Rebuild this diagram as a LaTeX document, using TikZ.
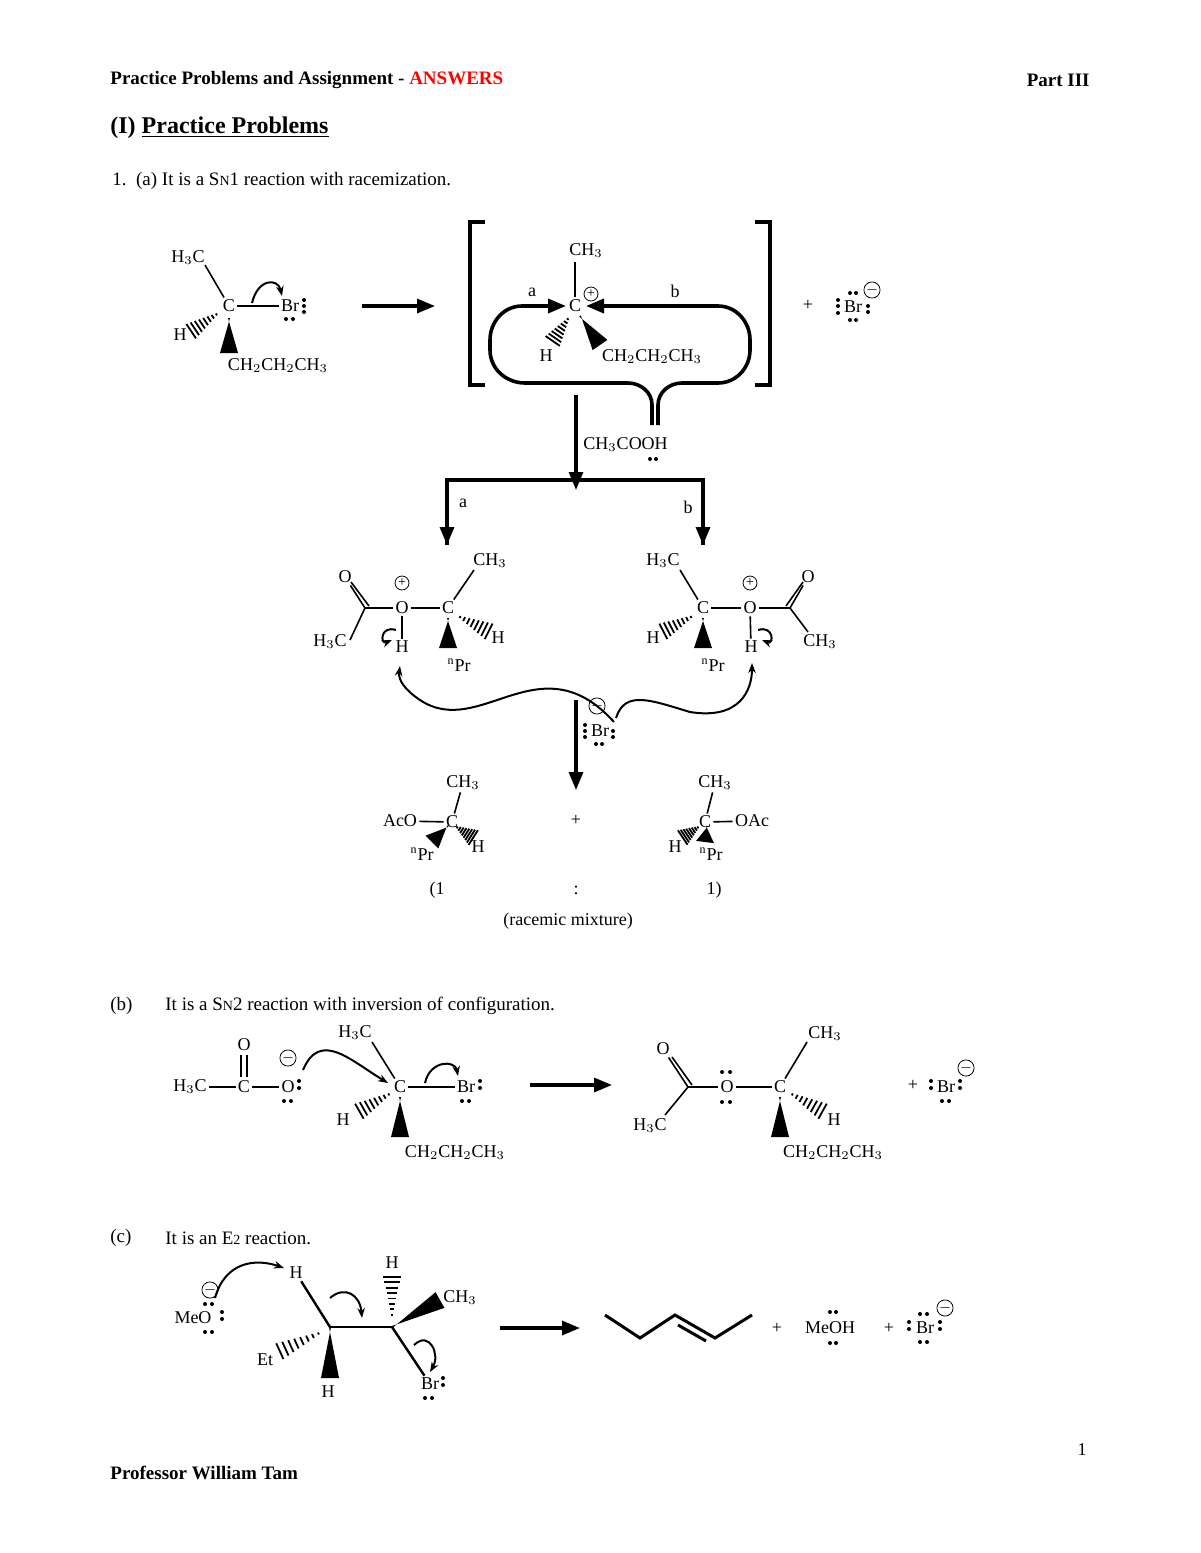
\documentclass[tikz,border=0pt]{standalone}
\usepackage{fontspec}
\setmainfont{Liberation Serif}
\usetikzlibrary{calc,arrows.meta}
\newcommand\hsh[2]{\foreach \t in {0.12,0.24,...,1.0}{\draw[line width=0.9pt] ($(#1)!\t!(#2)!{\t*4.5pt}!90:(#2)$) -- ($(#1)!\t!(#2)!{\t*4.5pt}!-90:(#2)$);}}
\newcommand\wdg[2]{\fill ($(#1)!0.5pt!90:(#2)$) -- ($(#2)!4.5pt!90:(#1)$) -- ($(#2)!4.5pt!-90:(#1)$) -- ($(#1)!0.5pt!-90:(#2)$) -- cycle;}
\begin{document}
\begin{tikzpicture}[x=0.5pt,y=-0.5pt,
  ch/.style={font=\fontsize{9}{10}\selectfont,inner sep=1pt},
  txt/.style={font=\fontsize{9.5}{11}\selectfont,inner sep=0pt,anchor=west},
  bd/.style={line width=0.8pt},
  big/.style={line width=1.6pt,-{Triangle[length=9pt,width=7pt]}},
  cur/.style={line width=1pt,-{Stealth[length=5pt]}},
  chg/.style={circle,draw,inner sep=0pt,minimum size=7pt,font=\fontsize{7}{7}\selectfont}]
\useasboundingbox (0,0) rectangle (1200,1553);
% header
\node[txt,font=\fontsize{9.5}{11}\selectfont\bfseries] (hd) at (110,80) {Practice Problems and Assignment - \textcolor{red}{ANSWERS}};
\node[txt,anchor=east,font=\fontsize{9.5}{11}\selectfont\bfseries] (pt) at (1090,80) {Part III};
\node[txt,font=\fontsize{12}{14}\selectfont\bfseries] (h1) at (110,128) {(I) \underline{Practice Problems}};
\node[txt] (q1) at (112,181) {1.\ \ (a) It is a S{\fontsize{7}{8}\selectfont N}1 reaction with racemization.};
% molecule 1
\node[ch] (c1) at (229,306) {C};
\node[ch] (c1m) at (188,258) {H$_3$C};
\node[ch] (c1b) at (290,306) {Br};
\node[ch] (c1h) at (180,335) {H};
\node[ch] (c1p) at (278,366) {CH$_2$CH$_2$CH$_3$};
\draw[bd] (c1) -- (205,265);
\draw[bd] (c1) -- (c1b);
\coordinate (w1) at (229,353); \coordinate (c1s) at (229,318);
\wdg{c1s}{w1}
\coordinate (h1a) at (220,312); \coordinate (h1b) at (190,332); \hsh{h1a}{h1b}
\draw[cur] (252,303) .. controls (258,278) and (278,278) .. (282,296);
\foreach \p in {(304,300),(304,306),(304,312),(286,319),(293,319)} \fill \p circle (1pt);
\draw[big] (362,306) -- (435,306);
% brackets
\draw[line width=2pt] (485,222) -- (470,222) -- (470,385) -- (485,385);
\draw[line width=2pt] (755,222) -- (770,222) -- (770,385) -- (755,385);
\node[ch] (c2) at (575,306) {C};
\node[chg] (pl2) at (591,294) {+};
\node[ch] (c2m) at (586,251) {CH$_3$};
\node[ch] (c2h) at (546,356) {H};
\node[ch] (c2p) at (652,357) {CH$_2$CH$_2$CH$_3$};
\draw[bd] (575,297) -- (575,262);
\coordinate (h2a) at (570,316); \coordinate (h2b) at (552,342); \hsh{h2a}{h2b}
\coordinate (w2a) at (580,316); \coordinate (w2b) at (600,345); \wdg{w2a}{w2b}
\draw[line width=1.8pt,-{Triangle[length=9pt,width=7pt]}] (652,425) -- (652,405) to[out=90,in=0] (628,383) -- (525,383) to[out=180,in=270] (490,350) -- (490,340) to[out=90,in=180] (522,306) -- (566,306);
\draw[line width=1.8pt,-{Triangle[length=9pt,width=7pt]}] (658,425) -- (658,405) to[out=90,in=180] (682,383) -- (718,383) to[out=0,in=270] (750,350) -- (750,340) to[out=90,in=0] (718,306) -- (586,306);
\node[ch] (la) at (532,292) {a};
\node[ch] (lb) at (675,291) {b};
\node[ch] (pl) at (808,305) {+};
\node[ch] (br2) at (853,307) {Br};
\node[chg] (mi2) at (872,290) {$-$};
\foreach \p in {(838,300),(838,306),(838,313),(850,293),(856,293),(850,320),(856,320),(868,306),(868,312)} \fill \p circle (1pt);
% acetic acid
\draw[big] (576,395) -- (576,490);
\node[txt] (aa) at (583,445) {\fontsize{9}{10}\selectfont CH$_3$COOH};
\foreach \p in {(650,459),(656,459)} \fill \p circle (1pt);
\draw[line width=1.8pt] (447,545) -- (447,480) -- (703,480) -- (703,545);
\draw[big] (447,480) -- (447,545);
\draw[big] (703,480) -- (703,545);
\node[ch] (la2) at (463,503) {a};
\node[ch] (lb2) at (688,507) {b};
% left intermediate
\node[ch] (o1) at (402,608) {O};
\node[chg] (op1) at (402,583) {+};
\node[ch] (ok1) at (345,577) {O};
\node[ch] (m1) at (330,642) {H$_3$C};
\node[ch] (c3) at (448,608) {C};
\node[ch] (c3m) at (490,561) {CH$_3$};
\node[ch] (c3h) at (498,638) {H};
\node[ch] (c3p) at (459,665) {$^{\rm n}$Pr};
\node[ch] (oh1) at (402,647) {H};
\coordinate (k1) at (365,608);
\draw[bd] (k1) -- (o1); \draw[bd] (k1) -- (350,640); \draw[bd] (k1) -- (ok1); \draw[bd] (369,606) -- (351,582);
\draw[bd] (o1) -- (c3); \draw[bd] (c3) -- (474,570); \draw[bd] (o1) -- (oh1);
\coordinate (h3a) at (456,615); \coordinate (h3b) at (490,632); \hsh{h3a}{h3b}
\coordinate (w3a) at (448,618); \coordinate (w3b) at (448,648); \wdg{w3a}{w3b}
\draw[cur] (396,630) .. controls (380,625) and (380,645) .. (392,640);
% right intermediate
\node[ch] (c4) at (703,608) {C};
\node[ch] (c4m) at (663,561) {H$_3$C};
\node[ch] (c4h) at (653,638) {H};
\node[ch] (c4p) at (713,665) {$^{\rm n}$Pr};
\node[ch] (o2) at (750,608) {O};
\node[chg] (op2) at (750,583) {+};
\node[ch] (oh2) at (751,647) {H};
\node[ch] (ok2) at (808,577) {O};
\node[ch] (m2) at (820,642) {CH$_3$};
\coordinate (k2) at (790,608);
\draw[bd] (c4) -- (o2); \draw[bd] (o2) -- (k2); \draw[bd] (k2) -- (ok2); \draw[bd] (786,606) -- (803,582); \draw[bd] (k2) -- (808,632);
\draw[bd] (c4) -- (680,570); \draw[bd] (o2) -- (oh2);
\coordinate (h4a) at (695,615); \coordinate (h4b) at (662,632); \hsh{h4a}{h4b}
\coordinate (w4a) at (703,618); \coordinate (w4b) at (703,648); \wdg{w4a}{w4b}
\draw[cur] (758,630) .. controls (774,625) and (774,645) .. (762,640);
% bromide attack
\node[ch] (br3) at (600,731) {Br};
\node[chg] (mi3) at (597,706) {$-$};
\foreach \p in {(585,725),(585,731),(585,737),(596,744),(602,744),(613,731),(613,737)} \fill \p circle (1pt);
\draw[cur] (614,722) .. controls (540,640) and (480,740) .. (420,700) .. controls (405,690) and (398,680) .. (400,666);
\draw[cur] (616,718) .. controls (625,690) and (650,700) .. (690,712) .. controls (740,720) and (752,690) .. (752,663);
\draw[big] (576,700) -- (576,790);
% products
\node[ch] (c5) at (452,822) {C};
\node[ch] (c5m) at (463,783) {CH$_3$};
\node[ch] (c5o) at (400,821) {AcO};
\node[ch] (c5p) at (422,854) {$^{\rm n}$Pr};
\node[ch] (c5h) at (478,847) {H};
\draw[bd] (c5o) -- (c5); \draw[bd] (c5) -- (c5m);
\coordinate (h5a) at (455,826); \coordinate (h5b) at (474,838); \hsh{h5a}{h5b}
\coordinate (w5a) at (448,826); \coordinate (w5b) at (432,842); \wdg{w5a}{w5b}
\node[ch] (pl5) at (576,820) {+};
\node[ch] (c6) at (705,822) {C};
\node[ch] (c6m) at (715,783) {CH$_3$};
\node[ch] (c6o) at (752,821) {OAc};
\node[ch] (c6h) at (675,847) {H};
\node[ch] (c6p) at (711,854) {$^{\rm n}$Pr};
\draw[bd] (c6) -- (c6o); \draw[bd] (c6) -- (c6m);
\coordinate (h6a) at (700,826); \coordinate (h6b) at (682,838); \hsh{h6a}{h6b}
\coordinate (w6a) at (707,826); \coordinate (w6b) at (705,842); \wdg{w6a}{w6b}
\node[ch] (r1) at (437,890) {(1};
\node[ch] (r2) at (576,890) {:};
\node[ch] (r3) at (714,890) {1)};
\node[ch] (r4) at (568,921) {(racemic mixture)};
% (b)
\node[txt] (qb) at (110,1006) {(b)};
\node[txt] (qbt) at (165,1006) {It is a S{\fontsize{7}{8}\selectfont N}2 reaction with inversion of configuration.};
\node[ch] (b1) at (190,1087) {H$_3$C};
\node[ch] (b2) at (244,1087) {C};
\node[ch] (b3) at (244,1045) {O};
\node[ch] (b4) at (288,1087) {O};
\node[chg] (b4m) at (288,1058) {$-$};
\draw[bd] (b1) -- (b2); \draw[bd] (b2) -- (b4); \draw[bd] (241,1077) -- (241,1055); \draw[bd] (247,1077) -- (247,1055);
\foreach \p in {(299,1081),(299,1088),(284,1101),(291,1101)} \fill \p circle (1pt);
\node[ch] (b5) at (400,1087) {C};
\node[ch] (b6) at (355,1033) {H$_3$C};
\node[ch] (b7) at (343,1120) {H};
\node[ch] (b8) at (455,1153) {CH$_2$CH$_2$CH$_3$};
\node[ch] (b9) at (466,1087) {Br};
\draw[bd] (b5) -- (b9); \draw[bd] (b5) -- (372,1042);
\coordinate (h7a) at (393,1092); \coordinate (h7b) at (358,1112); \hsh{h7a}{h7b}
\coordinate (w7a) at (400,1097); \coordinate (w7b) at (400,1137); \wdg{w7a}{w7b}
\draw[cur] (303,1070) .. controls (320,1030) and (350,1060) .. (388,1083);
\draw[cur] (425,1083) .. controls (430,1060) and (455,1060) .. (458,1076);
\foreach \p in {(480,1081),(480,1088),(462,1101),(469,1101)} \fill \p circle (1pt);
\draw[big] (530,1085) -- (612,1085);
\node[ch] (p1) at (663,1049) {O};
\node[ch] (p2) at (650,1126) {H$_3$C};
\node[ch] (p3) at (727,1087) {O};
\node[ch] (p4) at (780,1087) {C};
\node[ch] (p5) at (825,1034) {CH$_3$};
\node[ch] (p6) at (834,1120) {H};
\node[ch] (p7) at (833,1153) {CH$_2$CH$_2$CH$_3$};
\coordinate (pk) at (688,1087);
\draw[bd] (pk) -- (p3); \draw[bd] (p3) -- (p4); \draw[bd] (pk) -- (665,1115); \draw[bd] (pk) -- (p1); \draw[bd] (692,1085) -- (672,1057);
\draw[bd] (p4) -- (807,1042);
\coordinate (h8a) at (788,1092); \coordinate (h8b) at (824,1112); \hsh{h8a}{h8b}
\coordinate (w8a) at (780,1097); \coordinate (w8b) at (780,1137); \wdg{w8a}{w8b}
\foreach \p in {(722,1072),(730,1072),(722,1102),(730,1102)} \fill \p circle (1pt);
\node[ch] (p8) at (913,1085) {+};
\node[ch] (p9) at (946,1087) {Br};
\node[chg] (p9m) at (966,1068) {$-$};
\foreach \p in {(931,1081),(931,1088),(942,1101),(949,1101),(960,1081),(960,1088)} \fill \p circle (1pt);
% (c)
\node[txt] (qc) at (110,1238) {(c)};
\node[txt] (qct) at (165,1238) {It is an E{\fontsize{7}{8}\selectfont 2} reaction.};
\node[ch] (e1) at (193,1318) {MeO};
\node[chg] (e1m) at (210,1290) {$-$};
\foreach \p in {(222,1312),(222,1319),(205,1304),(212,1304),(205,1332),(212,1332)} \fill \p circle (1pt);
\coordinate (ca) at (330,1327); \coordinate (cb) at (392,1327);
\node[ch] (e2) at (296,1273) {H};
\node[ch] (e3) at (392,1263) {H};
\node[ch] (e4) at (460,1298) {CH$_3$};
\node[ch] (e5) at (430,1384) {Br};
\node[ch] (e6) at (265,1360) {Et};
\node[ch] (e7) at (328,1392) {H};
\draw[line width=1.2pt] (ca) -- (cb); \draw[line width=1.2pt] (ca) -- (e2); \draw[line width=1.2pt] (cb) -- (e5);
\coordinate (h9a) at (392,1320); \coordinate (h9b) at (392,1275); \hsh{h9a}{h9b}
\coordinate (h10a) at (324,1331); \coordinate (h10b) at (278,1352); \hsh{h10a}{h10b}
\coordinate (w10) at (440,1300); \wdg{cb}{w10}
\coordinate (w11) at (330,1378); \wdg{ca}{w11}
\draw[cur] (215,1298) .. controls (225,1262) and (255,1258) .. (284,1268);
\draw[cur] (330,1298) .. controls (345,1285) and (360,1295) .. (362,1318);
\draw[cur] (414,1345) .. controls (430,1330) and (440,1355) .. (430,1372);
\foreach \p in {(443,1378),(443,1385),(425,1398),(432,1398)} \fill \p circle (1pt);
\draw[big] (500,1328) -- (580,1328);
\draw[line width=1.5pt] (605,1315) -- (640,1338) -- (675,1315) -- (715,1338) -- (752,1315);
\draw[line width=1.5pt] (678,1325) -- (706,1341);
\node[ch] (e8) at (777,1328) {+};
\node[ch] (e9) at (830,1328) {MeOH};
\foreach \p in {(830,1312),(836,1312),(830,1343),(836,1343)} \fill \p circle (1pt);
\node[ch] (e10) at (889,1328) {+};
\node[ch] (e11) at (925,1328) {Br};
\node[chg] (e11m) at (945,1308) {$-$};
\foreach \p in {(909,1322),(909,1329),(920,1342),(927,1342),(920,1314),(927,1314),(940,1322),(940,1329)} \fill \p circle (1pt);
% footer
\node[ch] (pg) at (1082,1450) {1};
\node[txt,font=\fontsize{9.5}{11}\selectfont\bfseries] (ft) at (110,1473) {Professor William Tam};
\end{tikzpicture}
\end{document}
